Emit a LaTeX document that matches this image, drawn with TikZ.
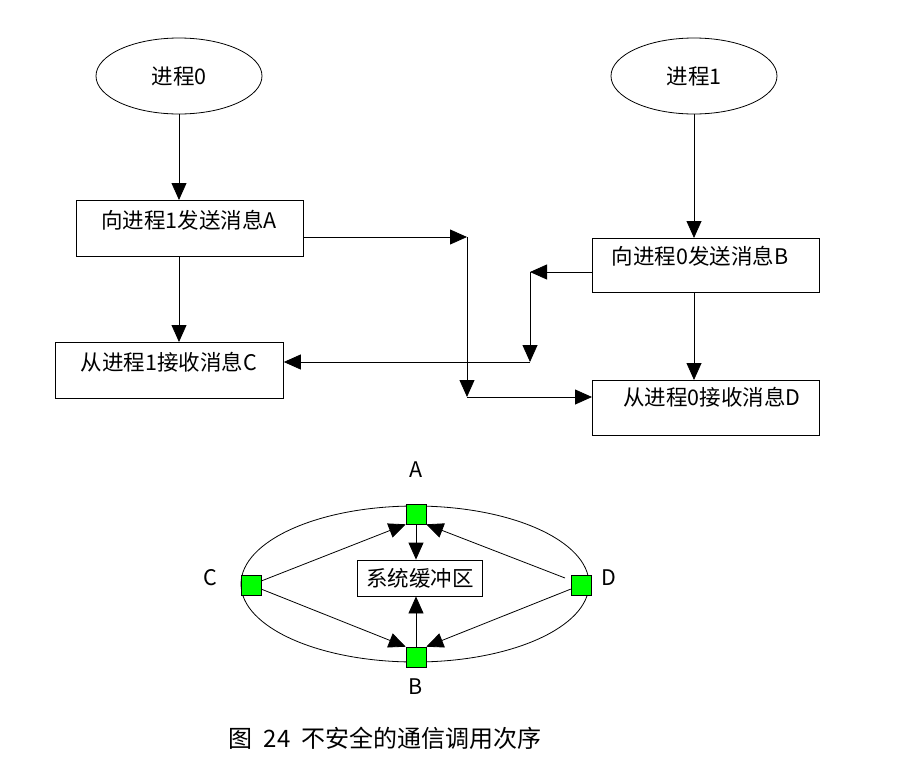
\documentclass[tikz,border=0pt]{standalone}
\usepackage{fontspec}
\setmainfont{Liberation Serif}
\newfontfamily\cjk{Noto Sans CJK SC}
\usetikzlibrary{arrows.meta,shapes.geometric}
\begin{document}
\begin{tikzpicture}[x=1pt,y=-1pt,
  every node/.style={font=\cjk\fontsize{21.5}{24}\selectfont},
  tri/.style={-{Triangle[length=17pt,width=15pt]}},
  box/.style={draw,line width=0.8pt,inner sep=0pt,anchor=north west},
  ell/.style={draw,ellipse,minimum width=166pt,minimum height=76pt,inner sep=0pt,line width=0.8pt},
  gsq/.style={draw,fill=green,minimum size=20pt,inner sep=0pt,line width=0.6pt},
  line width=0.8pt]
\useasboundingbox (0,0) rectangle (913,758);
\node[ell] (p0) at (179,76) {进程0};
\node[ell] (p1) at (694,76) {进程1};
\node[box,minimum width=227pt,minimum height=56pt] (A) at (76,200) {};
\node at (189,220) {向进程1发送消息A};
\node[box,minimum width=227pt,minimum height=54pt] (B) at (592,238) {};
\node at (700,256) {向进程0发送消息B};
\node[box,minimum width=228pt,minimum height=56pt] (C) at (55,342) {};
\node at (169,362) {从进程1接收消息C};
\node[box,minimum width=227pt,minimum height=55pt] (D) at (592,380) {};
\node at (712,397) {从进程0接收消息D};
\coordinate (a1) at (467,237); \coordinate (a2) at (467,397);
\coordinate (b1) at (530,272); \coordinate (b2) at (530,362);
\draw[tri] (p0.south) -- (A.north -| p0.south);
\draw[tri] (A.south -| p0.south) -- (C.north -| p0.south);
\draw[tri] (p1.south) -- (B.north -| p1.south);
\draw[tri] (B.south -| p1.south) -- (D.north -| p1.south);
\draw[tri] (A.east |- a1) -- (a1);
\draw[tri] (a1) -- (a2);
\draw[tri] (a2) -- (D.west |- a2);
\draw[tri] (B.west |- b1) -- (b1);
\draw[tri] (b1) -- (b2);
\draw[tri] (b2) -- (C.east |- b2);
% bottom
\draw (415,584) ellipse [x radius=174,y radius=78];
\node[draw,line width=0.8pt,inner sep=2pt,minimum width=125pt,minimum height=36pt] (buf) at (420,578) {系统缓冲区};
\node[gsq] (sA) at (416,514) {};
\node[gsq] (sB) at (416,657) {};
\node[gsq] (sC) at (251,585) {};
\node[gsq] (sD) at (581,585) {};
\coordinate (dA) at (565,578);
\draw[tri] (sC) -- (sA.south west);
\draw[tri] (sC) -- (sB.north west);
\draw[tri] (dA) -- (sA.south east);
\draw[tri] (sD) -- (sB.north east);
\draw[tri] (sA.south) -- (buf.north -| sA.south);
\draw[tri] (sB.north) -- (buf.south -| sB.north);
\node at (416,470) {A};
\node at (416,687) {B};
\node at (210,578) {C};
\node at (609,578) {D};
\node[font=\cjk\fontsize{24}{28}\selectfont] (cap) at (385,738) {图\ \ 24\ \ 不安全的通信调用次序};
\end{tikzpicture}
\end{document}
